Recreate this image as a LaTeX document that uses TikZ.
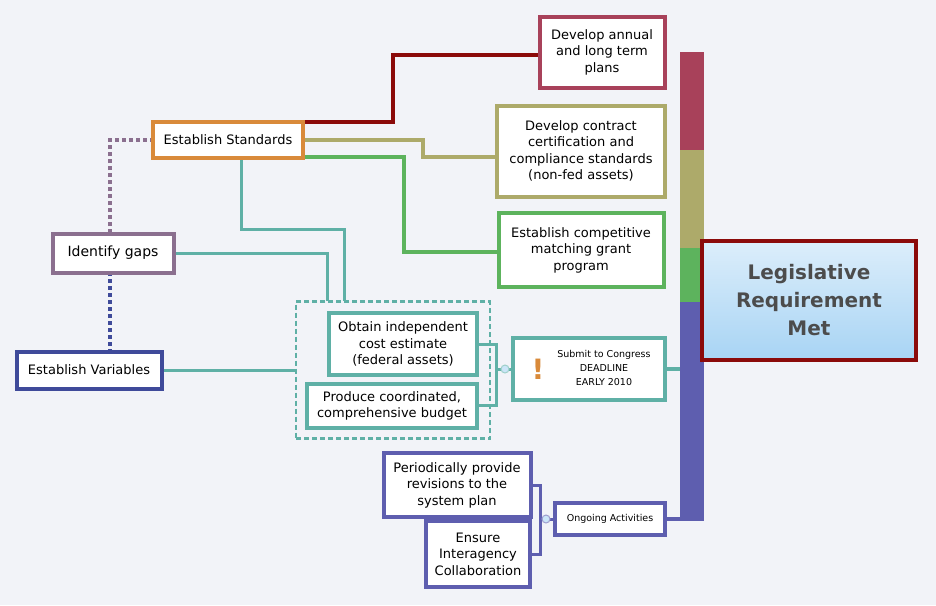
\documentclass[tikz,border=0pt]{standalone}
\usepackage{fontspec}
\setmainfont{DejaVu Sans}
\begin{document}
\begin{tikzpicture}[x=1pt,y=-1pt,
  box/.style={draw=#1,line width=4pt,fill=white,align=center,inner sep=0pt,font=\fontsize{13}{16.5}\selectfont},
  ln/.style={draw=#1,line width=4pt},
  dot/.style={draw=#1,line width=4pt,dash pattern=on 4pt off 3pt}]
\definecolor{bg}{HTML}{F2F3F8}
\definecolor{cR}{HTML}{A8415A}
\definecolor{cDR}{HTML}{8B0A0A}
\definecolor{cO}{HTML}{ADAA6A}
\definecolor{cG}{HTML}{5DB35D}
\definecolor{cP}{HTML}{5E5EAF}
\definecolor{cT}{HTML}{5FB0A6}
\definecolor{cOr}{HTML}{D98A3A}
\definecolor{cM}{HTML}{8B6F8F}
\definecolor{cN}{HTML}{3F4A9A}
\definecolor{cL}{HTML}{A8D4F4}
\fill[bg] (0,0) rectangle (936,605);
\useasboundingbox (0,0) rectangle (936,605);
% bar
\fill[cR] (680,52) rectangle (704,150);
\fill[cO] (680,150) rectangle (704,248);
\fill[cG] (680,248) rectangle (704,302);
\fill[cP] (680,302) rectangle (704,521);
% connectors (drawn first)
\draw[ln=cDR] (303,122) -- (393,122) -- (393,55) -- (540,55);
\draw[ln=cO] (303,140) -- (423,140) -- (423,157) -- (497,157);
\draw[ln=cG] (303,157) -- (404,157) -- (404,252) -- (499,252);
\draw[ln=cT,line width=3pt] (241,158) -- (241,229) -- (344,229) -- (344,301);
\draw[ln=cT,line width=3pt] (174,253) -- (327,253) -- (327,301);
\draw[ln=cT,line width=3pt] (162,370) -- (296,370);
\draw[dot=cM] (110,233) -- (110,140) -- (153,140);
\draw[dot=cN] (110,272) -- (110,351);
\draw[ln=cT,line width=3pt] (477,344) -- (496,344) -- (496,405) -- (477,405);
\draw[ln=cT,line width=3pt] (496,369) -- (513,369);
\draw[ln=cT] (665,369) -- (680,369);
\draw[ln=cP] (665,519) -- (680,519);
\draw[ln=cP,line width=3pt] (531,485) -- (540,485) -- (540,554) -- (530,554);
\draw[ln=cP,line width=3pt] (540,519) -- (555,519);
% nodes
\node[box=cR,minimum width=125,minimum height=71] (ann) at (602,52) {Develop annual\\and long term\\plans};
\node[box=cO,minimum width=168,minimum height=91] (con) at (581,151) {Develop contract\\certification and\\compliance standards\\(non-fed assets)};
\node[box=cG,minimum width=165,minimum height=74] (comp) at (581,250) {Establish competitive\\matching grant\\program};
\node[draw=cDR,line width=4pt,top color=cL!40!white,bottom color=cL,minimum width=214,minimum height=119,align=center,text=black!70,font=\bfseries\fontsize{20}{28}\selectfont] (leg) at (809,300) {Legislative\\Requirement\\Met};
\node[box=cOr,minimum width=150,minimum height=36] (std) at (228,140) {Establish Standards};
\node[box=cM,minimum width=121,minimum height=39,font=\fontsize{14}{16}\selectfont] (gap) at (113,253) {Identify gaps};
\node[box=cN,minimum width=145,minimum height=37] (var) at (89,370) {Establish Variables};
\node[draw=cT,line width=2.5pt,dash pattern=on 5pt off 3pt,minimum width=194,minimum height=137] (grp) at (393,370) {};
\node[box=cT,minimum width=148,minimum height=62] (obt) at (403,344) {Obtain independent\\cost estimate\\(federal assets)};
\node[box=cT,minimum width=170,minimum height=44] (prod) at (392,406) {Produce coordinated,\\comprehensive budget};
\node[box=cT,minimum width=152,minimum height=62,font=\fontsize{9.5}{14}\selectfont] (sub) at (589,369) {\hspace*{30pt}\begin{tabular}{@{}c@{}}Submit to Congress\\DEADLINE\\EARLY 2010\end{tabular}};
\node[text=cOr,font=\bfseries\fontsize{28}{28}\selectfont] (exc) at (538,369) {!};
\node[box=cP,minimum width=110,minimum height=32,font=\fontsize{9.5}{11}\selectfont] (ong) at (610,519) {Ongoing Activities};
\node[box=cP,minimum width=147,minimum height=64] (per) at (457,485) {Periodically provide\\revisions to the\\system plan};
\node[box=cP,minimum width=104,minimum height=66] (ens) at (478,554) {Ensure\\Interagency\\Collaboration};
\draw[cT!60,fill=cL!60,line width=1pt] (505,369) circle (4);
\draw[cP!60,fill=cL!60,line width=1pt] (546,519) circle (4);
\end{tikzpicture}
\end{document}
